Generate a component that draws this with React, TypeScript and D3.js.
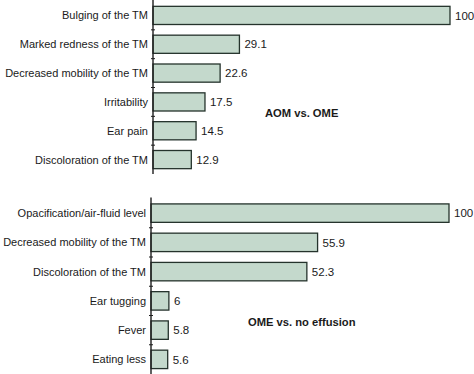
import React, { useEffect, useRef } from "react";
import * as d3 from "d3";

const aomLabels = [
  "Bulging of the TM",
  "Marked redness of the TM",
  "Decreased mobility of the TM",
  "Irritability",
  "Ear pain",
  "Discoloration of the TM",
];
const aomValues = [100, 29.1, 22.6, 17.5, 14.5, 12.9];

const omeLabels = [
  "Opacification/air-fluid level",
  "Decreased mobility of the TM",
  "Discoloration of the TM",
  "Ear tugging",
  "Fever",
  "Eating less",
];
const omeValues = [100, 55.9, 52.3, 6, 5.8, 5.6];

const panelTitles = ["AOM vs. OME", "OME vs. no effusion"];

const width = 474;
const height = 374;

export default function App() {
  const ref = useRef<SVGSVGElement>(null);

  useEffect(() => {
    const svg = d3.select(ref.current);
    svg.selectAll("*").remove();

    const panels = [
      { labels: aomLabels, values: aomValues, title: panelTitles[0], x0: 153, x1: 450, y0: 1, y1: 174, tx: 265, ty: 117 },
      { labels: omeLabels, values: omeValues, title: panelTitles[1], x0: 151, x1: 449, y0: 198.5, y1: 374, tx: 248, ty: 326 },
    ];

    panels.forEach((p) => {
      const data = p.labels.map((l, i) => ({ label: l, value: p.values[i] }));
      const xScale = d3.scaleLinear().domain([0, 100]).range([p.x0, p.x1]);
      const yScale = d3.scaleBand().domain(p.labels).range([p.y0, p.y1]).paddingInner(0.37).paddingOuter(0.185);

      const g = svg.append("g");

      // bars
      g.selectAll(".bar")
        .data(data)
        .enter()
        .append("rect")
        .attr("class", "bar")
        .attr("x", xScale(0))
        .attr("y", (d) => yScale(d.label)!)
        .attr("width", (d) => xScale(d.value) - xScale(0))
        .attr("height", yScale.bandwidth())
        .attr("fill", "#c4d9cc")
        .attr("stroke", "#25332c")
        .attr("stroke-width", 1.3);

      // axis line + small ticks at band boundaries
      g.append("line")
        .attr("x1", p.x0).attr("x2", p.x0)
        .attr("y1", p.y0 - 1).attr("y2", p.y1)
        .attr("stroke", "#1e1e1e").attr("stroke-width", 1.4);

      g.selectAll(".tick")
        .data(p.labels.slice(1))
        .enter()
        .append("line")
        .attr("x1", p.x0 - 2).attr("x2", p.x0 + 2)
        .attr("y1", (d) => yScale(d)! - (yScale.step() - yScale.bandwidth()) / 2)
        .attr("y2", (d) => yScale(d)! - (yScale.step() - yScale.bandwidth()) / 2)
        .attr("stroke", "#1e1e1e").attr("stroke-width", 1);

      // category labels
      g.selectAll(".cat")
        .data(data)
        .enter()
        .append("text")
        .attr("x", p.x0 - 5)
        .attr("y", (d) => yScale(d.label)! + yScale.bandwidth() / 2)
        .attr("dy", "0.36em")
        .attr("text-anchor", "end")
        .style("font-size", "11px")
        .attr("fill", "#1a1a1a")
        .text((d) => d.label);

      // value labels
      g.selectAll(".val")
        .data(data)
        .enter()
        .append("text")
        .attr("x", (d) => xScale(d.value) + 5)
        .attr("y", (d) => yScale(d.label)! + yScale.bandwidth() / 2)
        .attr("dy", "0.36em")
        .style("font-size", "11.5px")
        .attr("fill", "#1a1a1a")
        .text((d) => `${d.value}`);

      g.append("text")
        .attr("x", p.tx)
        .attr("y", p.ty)
        .style("font-size", "11.2px")
        .style("font-weight", "bold")
        .attr("fill", "#1a1a1a")
        .text(p.title);
    });
  }, []);

  return (
    <svg
      ref={ref}
      width={width}
      height={height}
      style={{ position: "absolute", left: 0, top: 0, background: "#fff", fontFamily: "Arial, 'Liberation Sans', sans-serif" }}
    />
  );
}
